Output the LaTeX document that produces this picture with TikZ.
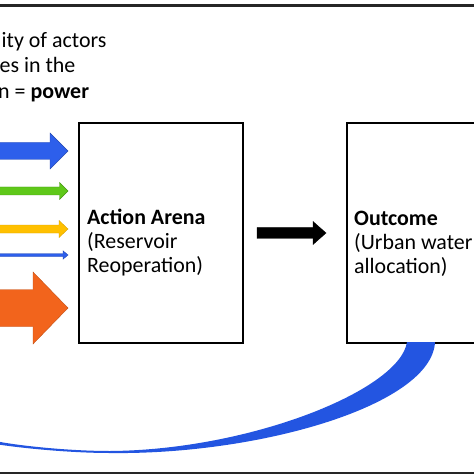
\documentclass[tikz,border=0pt]{standalone}
\usepackage{fontspec}
\setmainfont{Carlito}
\usetikzlibrary{calc}
\definecolor{blueA}{RGB}{45,95,235}
\definecolor{greenA}{RGB}{95,200,25}
\definecolor{yellowA}{RGB}{255,192,0}
\definecolor{orangeA}{RGB}{242,100,28}
\definecolor{curveblue}{RGB}{35,85,225}
\tikzset{
  pics/blockarrow/.style n args={4}{code={
    \path[pic actions] (-#1,-#2) -- (-#4,-#2) -- (-#4,-#3) -- (0,0) -- (-#4,#3) -- (-#4,#2) -- (-#1,#2) -- cycle;}},
  txt/.style={anchor=base west, inner sep=0pt, font=\fontsize{22}{25}\selectfont},
  box/.style={draw=black, line width=2pt, anchor=north west, inner sep=0pt},
  frameline/.style={draw=black!85, line width=3pt},
}
\begin{document}
\begin{tikzpicture}[x=1bp,y=-1bp]
\useasboundingbox (0,0) rectangle (474,474);
\clip (0,0) rectangle (474,474);
\fill[white] (0,0) rectangle (474,474);
% frame lines
\coordinate (tl) at (-5,5.5);
\coordinate (tr) at (480,5.5);
\coordinate (bl) at (-5,473);
\coordinate (br) at (480,473);
\draw[frameline] (tl) -- (tr);
\draw[frameline] (bl) -- (br);
% top text
\node[txt] (l1) at (1.5,48) {ity of actors};
\node[txt] (l2) at (-0.5,73) {es in the};
\node[txt] (l3) at (-2,99) {n = \textbf{power}};
% boxes
\node[box, minimum width=164bp, minimum height=220bp] (arena) at (78,122) {};
\node[box, minimum width=140bp, minimum height=220bp] (outcome) at (346,122) {};
\node[txt] (a1) at (87,225) {\textbf{Action Arena}};
\node[txt] (a2) at (87,248) {(Reservoir};
\node[txt] (a3) at (87,272) {Reoperation)};
\node[txt] (o1) at (354,226) {\textbf{Outcome}};
\node[txt] (o2) at (354,249) {(Urban water};
\node[txt] (o3) at (354,273) {allocation)};
% black arrow
\coordinate (btip) at ($(outcome.west)+(-20,0)$);
\pic[fill=black, draw=black] at (btip) {blockarrow={69}{5.5}{11.5}{13}};
% coloured input arrows
\coordinate (c1) at ($(arena.west |- 0,151)+(-10,0)$);
\coordinate (c2) at ($(arena.west |- 0,191)+(-10,0)$);
\coordinate (c3) at ($(arena.west |- 0,229)+(-10,0)$);
\coordinate (c4) at ($(arena.west |- 0,255)+(-10,0)$);
\coordinate (c5) at ($(arena.west |- 0,308)+(-10,0)$);
\pic[fill=blueA, draw=blueA!75!black] at (c1) {blockarrow={75}{8.5}{18}{18}};
\pic[fill=greenA, draw=greenA!75!black] at (c2) {blockarrow={75}{4}{8.5}{8.5}};
\pic[fill=yellowA, draw=yellowA!85!black] at (c3) {blockarrow={75}{4}{8.5}{9}};
\pic[fill=blueA, draw=blueA!75!black] at (c4) {blockarrow={75}{1.5}{4.2}{5}};
\pic[fill=orangeA, draw=orangeA!80!black] at (c5) {blockarrow={75}{18.5}{36}{35}};
% feedback curve
\coordinate (fo) at (435,342);
\coordinate (fi) at (407,342);
\fill[curveblue] (fo) .. controls (432,405) and (260,455) .. (110,453)
   .. controls (70,453) and (20,448) .. (-5,444)
   -- (-5,441) .. controls (20,446) and (70,451) .. (110,451)
   .. controls (250,450) and (400,390) .. (fi) -- cycle;
\end{tikzpicture}
\end{document}
